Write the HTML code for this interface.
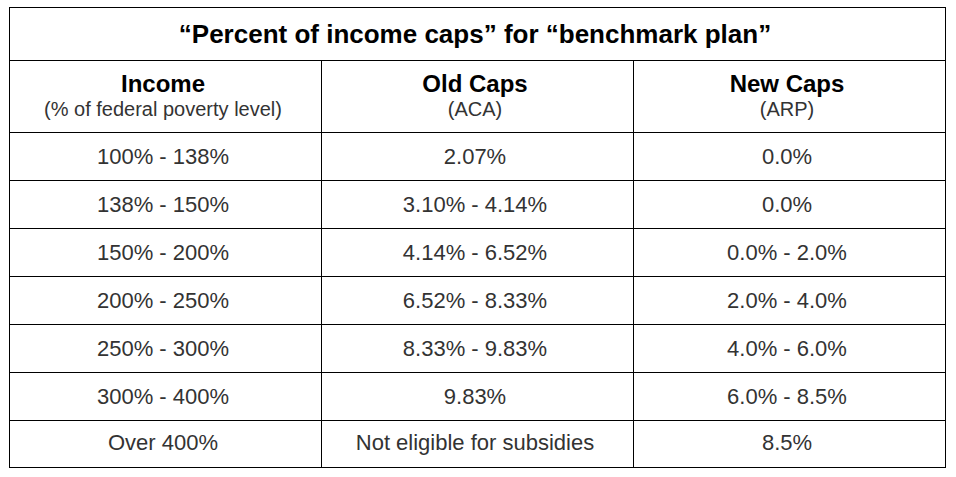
<!DOCTYPE html>
<html><head><meta charset="utf-8"><style>
html,body{margin:0;padding:0;background:#fff;}
body{width:956px;height:477px;position:relative;overflow:hidden;font-family:"Liberation Sans",sans-serif;color:#111;}
.h{position:absolute;left:9px;width:937px;height:1px;background:#000;}
.v{position:absolute;width:1px;background:#000;}
.c{position:absolute;text-align:center;white-space:nowrap;}
.t{font-weight:bold;font-size:26px;color:#000;}
.hd{font-weight:bold;font-size:24px;color:#000;}
.sub{font-size:20px;color:#333;}
.b{font-size:22px;color:#333;}
</style></head><body>

<div class="h" style="top:7px"></div>
<div class="h" style="top:60px"></div>
<div class="h" style="top:132px"></div>
<div class="h" style="top:180px"></div>
<div class="h" style="top:228px"></div>
<div class="h" style="top:276px"></div>
<div class="h" style="top:324px"></div>
<div class="h" style="top:372px"></div>
<div class="h" style="top:420px"></div>
<div class="h" style="top:467px"></div>
<div class="v" style="left:9px;top:7px;height:461px"></div>
<div class="v" style="left:945px;top:7px;height:461px"></div>
<div class="v" style="left:321px;top:60px;height:408px"></div>
<div class="v" style="left:633px;top:60px;height:408px"></div>
<div class="c t" style="left:6.5px;width:937px;top:19px;line-height:30px">“Percent of income caps” for “benchmark plan”</div>
<div class="c hd" style="left:6.5px;width:313px;top:70px;line-height:28px">Income</div>
<div class="c sub" style="left:6.5px;width:313px;top:97px;line-height:24px">(% of federal poverty level)</div>
<div class="c hd" style="left:318.5px;width:313px;top:70px;line-height:28px">Old Caps</div>
<div class="c sub" style="left:318.5px;width:313px;top:97px;line-height:24px">(ACA)</div>
<div class="c hd" style="left:630.5px;width:313px;top:70px;line-height:28px">New Caps</div>
<div class="c sub" style="left:630.5px;width:313px;top:97px;line-height:24px">(ARP)</div>
<div class="c b" style="left:6.5px;width:313px;top:144px;line-height:26px">100% - 138%</div>
<div class="c b" style="left:318.5px;width:313px;top:144px;line-height:26px">2.07%</div>
<div class="c b" style="left:630.5px;width:313px;top:144px;line-height:26px">0.0%</div>
<div class="c b" style="left:6.5px;width:313px;top:192px;line-height:26px">138% - 150%</div>
<div class="c b" style="left:318.5px;width:313px;top:192px;line-height:26px">3.10% - 4.14%</div>
<div class="c b" style="left:630.5px;width:313px;top:192px;line-height:26px">0.0%</div>
<div class="c b" style="left:6.5px;width:313px;top:240px;line-height:26px">150% - 200%</div>
<div class="c b" style="left:318.5px;width:313px;top:240px;line-height:26px">4.14% - 6.52%</div>
<div class="c b" style="left:630.5px;width:313px;top:240px;line-height:26px">0.0% - 2.0%</div>
<div class="c b" style="left:6.5px;width:313px;top:288px;line-height:26px">200% - 250%</div>
<div class="c b" style="left:318.5px;width:313px;top:288px;line-height:26px">6.52% - 8.33%</div>
<div class="c b" style="left:630.5px;width:313px;top:288px;line-height:26px">2.0% - 4.0%</div>
<div class="c b" style="left:6.5px;width:313px;top:336px;line-height:26px">250% - 300%</div>
<div class="c b" style="left:318.5px;width:313px;top:336px;line-height:26px">8.33% - 9.83%</div>
<div class="c b" style="left:630.5px;width:313px;top:336px;line-height:26px">4.0% - 6.0%</div>
<div class="c b" style="left:6.5px;width:313px;top:384px;line-height:26px">300% - 400%</div>
<div class="c b" style="left:318.5px;width:313px;top:384px;line-height:26px">9.83%</div>
<div class="c b" style="left:630.5px;width:313px;top:384px;line-height:26px">6.0% - 8.5%</div>
<div class="c b" style="left:6.5px;width:313px;top:430px;line-height:26px">Over 400%</div>
<div class="c b" style="left:318.5px;width:313px;top:430px;line-height:26px">Not eligible for subsidies</div>
<div class="c b" style="left:630.5px;width:313px;top:430px;line-height:26px">8.5%</div>
</body></html>
